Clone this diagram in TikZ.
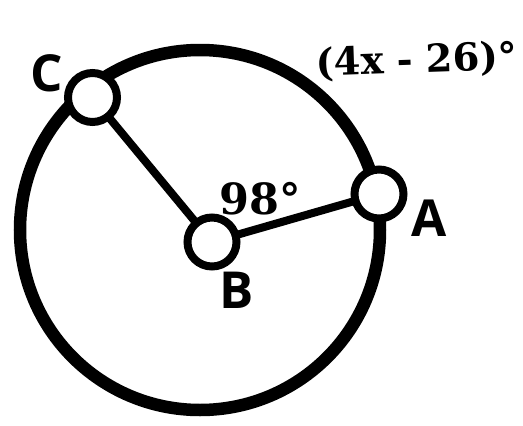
\documentclass[tikz,border=0pt]{standalone}
\usepackage{fontspec}
\newfontfamily\numfont{DejaVu Serif}
\newfontfamily\letfont{Open Sans}
\begin{document}
\begin{tikzpicture}[x=1pt,y=-1pt,
  pt/.style={circle,draw=black,fill=white,line width=8pt,minimum size=49pt,inner sep=0pt,outer sep=0pt},
  seg/.style={line width=8pt},
  ring/.style={line width=12.5pt},
  lbl/.style={font=\letfont\bfseries\fontsize{51}{51}\selectfont,inner sep=0pt},
  num/.style={font=\numfont\bfseries\fontsize{43}{43}\selectfont,inner sep=0pt},
  arcnum/.style={font=\numfont\bfseries\fontsize{38.5}{38.5}\selectfont,inner sep=0pt}]
\useasboundingbox (0,0) rectangle (523,426);
\draw[ring] (200,230) circle[radius=180];
\node[pt] (B) at (212,242) {};
\node[pt] (A) at (379,194) {};
\node[pt] (C) at (92.5,97.5) {};
\draw[seg] (C) -- (B);
\draw[seg] (B) -- (A);
\node[lbl] (lC) at (47,73.5) {C};
\node[lbl] (lA) at (429,218.5) {A};
\node[lbl] (lB) at (236.5,290) {B};
\node[num,anchor=base] (n98) at (260.5,214) {98°};
\node[arcnum,anchor=base,rotate=2] (arc) at (417,73) {(4x - 26)°};
\end{tikzpicture}
\end{document}
